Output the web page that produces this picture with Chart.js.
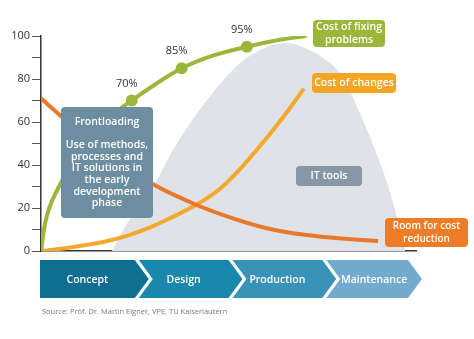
<!DOCTYPE html>
<html>
<head>
<meta charset="utf-8">
<script src="https://cdn.jsdelivr.net/npm/chart.js@4.4.1/dist/chart.umd.min.js"></script>
<style>
	html, body { margin: 0; padding: 0; background: #fff; }
	#wrap { width: 474px; height: 339px; }
</style>
</head>
<body>
<div id="wrap"><canvas id="chart"></canvas></div>
<script>
// cost of fixing problems (committed cost share)
const fixX = [0, 1.1, 4.5, 12, 19.7, 24.2, 30, 37.5, 46, 54.9, 63, 70.8];
const fixY = [0, 13, 29, 49, 64, 70, 77, 85, 91, 95, 98, 100];

// milestone dots on the fixing curve
const milestoneX = [24.2, 37.5, 54.9];
const milestoneY = [70, 85, 95];
const milestoneLabels = ['70%', '85%', '95%'];

// cost of changes
const changeX = [0, 6, 12, 18, 23.5, 29.1, 34.4, 41.5, 46.9, 52.2, 57.5, 62.9, 66.4, 70.1];
const changeY = [0, 1.2, 2.8, 4.8, 7.4, 11, 15.2, 21.6, 27.8, 36.5, 47, 58.5, 66.5, 75.5];

// room for cost reduction
const reductionX = [0, 5.5, 14, 22, 29.9, 41.5, 51.2, 60.2, 70.9, 80, 89.9];
const reductionY = [71, 62.5, 50.5, 40, 31, 21.4, 15.2, 10.6, 7.4, 5.8, 4.7];

// IT tools usage (grey hill)
const toolsX = [18.9, 23.2, 29.9, 35.2, 44.3, 53.1, 60.3, 65.6, 70.4, 75.2, 80.5, 84.3, 89.1, 92.3, 94.9, 97.1];
const toolsY = [0, 13.5, 29.8, 47, 70.2, 87.4, 94.9, 96.7, 94.4, 89.8, 80.9, 67, 47, 31.6, 15.8, 0];

const yTicks = [0, 20, 40, 60, 80, 100];
const phases = ['Concept', 'Design', 'Production', 'Maintenance'];
const source = 'Source: Prof. Dr. Martin Eigner, VPE, TU Kaiserlautern';

const pts = (xs, ys) => xs.map((v, i) => ({ x: v, y: ys[i] }));

const FONT = '"Open Sans", "Noto Sans", sans-serif';

function box(ctx, x, y, w, h, color, lines, size, lineH) {
	ctx.fillStyle = color;
	ctx.beginPath();
	ctx.roundRect(x, y, w, h, 4);
	ctx.fill();
	ctx.fillStyle = '#fff';
	ctx.font = `600 ${size}px ${FONT}`;
	ctx.textAlign = 'center';
	ctx.textBaseline = 'middle';
	const start = y + h / 2 - ((lines.length - 1) * lineH) / 2;
	lines.forEach((t, i) => ctx.fillText(t, x + w / 2, start + i * lineH));
}

const overlay = {
	id: 'overlay',
	afterDraw(chart) {
		const { ctx, scales: { x, y } } = chart;
		ctx.save();

		// percent labels over the dots
		ctx.font = `11px ${FONT}`;
		ctx.fillStyle = '#333';
		ctx.textAlign = 'center';
		ctx.textBaseline = 'middle';
		milestoneLabels.forEach((t, i) => {
			ctx.fillText(t, x.getPixelForValue(milestoneX[i]) - 5, y.getPixelForValue(milestoneY[i]) - 17);
		});

		// curve end labels
		box(ctx, 313, 20, 72, 27, '#9cb63b', ['Cost of fixing', 'problems'], 10.5, 12.5);
		box(ctx, 312, 73, 84, 20, '#f4a526', ['Cost of changes'], 10.5, 12);
		box(ctx, 385, 218, 83, 29, '#ee7d26', ['Room for cost', 'reduction'], 10, 12.5);
		box(ctx, 296, 166, 66, 20, '#8797a5', ['IT tools'], 10.5, 12);

		// frontloading note
		box(ctx, 61, 107, 92, 111, '#6d8da1', [
			'Frontloading', '', 'Use of methods,', 'processes and',
			'IT solutions in', 'the early', 'development', 'phase'
		], 10.5, 11.7);

		// phase chevrons under the axis
		const colors = ['#106e92', '#1a88ad', '#3993b8', '#72abcd'];
		const top = 260, bottom = 298, mid = 279, tip = 14;
		phases.forEach((name, i) => {
			const left = i === 0 ? x.left - 1 : x.getPixelForValue(i * 25) + 4;
			const right = i === phases.length - 1 ? x.right - 8 : x.getPixelForValue((i + 1) * 25);
			ctx.fillStyle = colors[i];
			ctx.beginPath();
			ctx.moveTo(left, top);
			ctx.lineTo(right, top);
			ctx.lineTo(right + tip, mid);
			ctx.lineTo(right, bottom);
			ctx.lineTo(left, bottom);
			if (i > 0) ctx.lineTo(left + tip, mid);
			ctx.closePath();
			ctx.fill();
			ctx.fillStyle = '#fff';
			ctx.font = `600 10.5px ${FONT}`;
			const cx = i === phases.length - 1 ? (left + right + tip) / 2 : (left + right) / 2;
			ctx.fillText(name, cx, mid + 1);
		});

		// source line
		ctx.font = `7.5px ${FONT}`;
		ctx.fillStyle = '#7a7a7a';
		ctx.textAlign = 'left';
		ctx.fillText(source, 42, 312);

		ctx.restore();
	},
};

const data = {
	datasets: [
		{
			data: pts(milestoneX, milestoneY),
			showLine: false,
			pointRadius: 6,
			pointBackgroundColor: '#9cb63b',
			pointBorderWidth: 0,
			order: 1,
		},
		{
			data: pts(fixX, fixY),
			borderColor: '#9cb63b',
			borderWidth: 4,
			pointRadius: 0,
			cubicInterpolationMode: 'monotone',
			order: 2,
		},
		{
			data: pts(reductionX, reductionY),
			borderColor: '#e9782b',
			borderWidth: 4,
			pointRadius: 0,
			cubicInterpolationMode: 'monotone',
			order: 3,
		},
		{
			data: pts(changeX, changeY),
			borderColor: '#f4a82e',
			borderWidth: 4,
			pointRadius: 0,
			cubicInterpolationMode: 'monotone',
			order: 4,
		},
		{
			data: pts(toolsX, toolsY),
			borderWidth: 0,
			backgroundColor: '#dfe2e7',
			fill: 'origin',
			pointRadius: 0,
			cubicInterpolationMode: 'monotone',
			order: 5,
		},
	],
};

const config = {
	type: 'line',
	data,
	plugins: [overlay],
	options: {
		responsive: true,
		maintainAspectRatio: false,
		animation: false,
		layout: {
			padding: { top: 36, right: 58, bottom: 88, left: 0 },
		},
		scales: {
			x: {
				type: 'linear',
				min: 0,
				max: 100,
				ticks: { display: false },
				grid: { drawOnChartArea: false, drawTicks: false },
				border: { color: '#333', width: 1.5 },
				afterFit: s => {
					s.height = 0;
				},
			},
			y: {
				min: 0,
				max: 100,
				ticks: {
					stepSize: 10,
					autoSkip: false,
					padding: 2,
					color: '#333',
					font: { family: FONT, size: 11 },
					callback: v => (yTicks.includes(v) ? v : ''),
				},
				grid: { drawOnChartArea: false, tickLength: 9, color: '#555' },
				border: { color: '#333', width: 1.5 },
				afterFit: s => {
					s.width = 41;
				},
			},
		},
		plugins: {
			legend: { display: false },
			tooltip: { enabled: false },
		},
	},
};

const myChart = new Chart(document.getElementById('chart'), config);
</script>
</body>
</html>
